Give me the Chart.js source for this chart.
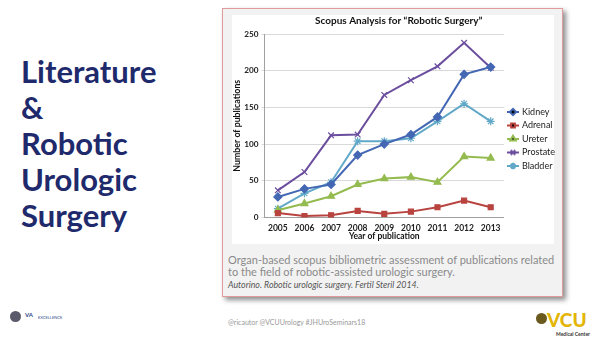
<!DOCTYPE html>
<html>
<head>
<meta charset="utf-8">
<script src="https://cdn.jsdelivr.net/npm/chart.js@4.4.1/dist/chart.umd.min.js"></script>
<style>
  html,body{margin:0;padding:0;background:#fff;width:600px;height:338px;overflow:hidden;font-family:Lato, "Open Sans", sans-serif;}
  #left{position:absolute;left:21px;top:52.5px;color:#1F2A6C;font-weight:bold;font-size:31px;line-height:36.2px;font-family:Lato,sans-serif;}
  #box{position:absolute;left:222px;top:8px;width:341px;height:289px;border:1px solid #E39A9A;background:#F2F2F2;box-shadow:3px 3px 5px rgba(0,0,0,0.45);box-sizing:border-box;}
  #white{position:absolute;left:232px;top:15px;width:322px;height:229px;background:#fff;}
  #cv{position:absolute;left:230px;top:15px;}
  #cap{position:absolute;left:228px;top:254px;color:#8A8A8A;font-size:11px;line-height:11.5px;font-family:Lato,sans-serif;white-space:nowrap;}
  #cite{position:absolute;left:228px;top:279px;color:#555;font-size:8.8px;font-style:italic;font-family:Lato,sans-serif;white-space:nowrap;}
  #foot{position:absolute;left:228px;top:318px;color:#9A9A9A;font-size:7px;font-family:Lato,sans-serif;white-space:nowrap;}
  #vcu{position:absolute;left:536px;top:310px;font-family:Lato,sans-serif;}
  #vcu .v{color:#E3B505;font-weight:900;font-size:19px;line-height:19px;margin-left:11px;}
  #vcu .c{position:absolute;left:0;top:3px;width:11px;height:11px;border-radius:50%;background:#6B5A1E;}
  #vcu .m{font-size:5px;color:#333;font-weight:bold;margin-left:20px;margin-top:2px;}
  #va{position:absolute;left:10px;top:311px;}
  #va .s{position:absolute;left:0;top:0;width:11px;height:11px;border-radius:50%;background:#5A5A6A;}
  #va .t{position:absolute;left:15px;top:0;color:#2F4A8A;font-size:6px;font-weight:bold;white-space:nowrap;}
  #va .u{position:absolute;left:28px;top:4px;color:#2F4A8A;font-size:4px;white-space:nowrap;}
</style>
</head>
<body>
<div id="left">Literature<br>&amp;<br>Robotic<br>Urologic<br>Surgery</div>
<div id="box"></div>
<div id="white"></div>
<canvas id="cv" width="335" height="229" style="width:335px;height:229px"></canvas>
<div id="cap">Organ-based scopus bibliometric assessment of publications related<br>to the field of robotic-assisted urologic surgery.</div>
<div id="cite">Autorino. Robotic urologic surgery. Fertil Steril 2014.</div>
<div id="foot">@ricautor @VCUUrology #JHUroSeminars18</div>
<div id="vcu"><div class="c"></div><div class="v">VCU</div><div class="m">Medical Center</div></div>
<div id="va"><div class="s"></div><div class="t">VA</div><div class="u">EXCELLENCE</div></div>
<script>
const years = ["2005","2006","2007","2008","2009","2010","2011","2012","2013"];
const kidney   = [28, 39, 45, 85, 100, 113, 137, 195, 205];
const adrenal  = [6, 2, 3, 9, 5, 8, 14, 23, 14];
const ureter   = [10, 19, 29, 45, 53, 55, 48, 83, 81];
const prostate = [37, 62, 112, 113, 167, 187, 206, 238, 204];
const bladder  = [12, 33, 48, 104, 104, 108, 131, 155, 131];
const yTicks   = [0, 50, 100, 150, 200, 250];

const seriesNames = ["Kidney","Adrenal","Ureter","Prostate","Bladder"];
const seriesData = [kidney, adrenal, ureter, prostate, bladder];
const colors = ["#4467B4","#B8433F","#94BB4F","#6B4E9E","#62A8C8"];
const markers = ["rectRot","rect","triangle","crossRot","star"];
const radii = [4,3.5,4,4,4];

function legendIcon(i){
  const c=document.createElement('canvas');c.width=12;c.height=10;
  const g=c.getContext('2d');
  g.strokeStyle=colors[i];g.lineWidth=2;
  g.beginPath();g.moveTo(0,5);g.lineTo(12,5);g.stroke();
  Chart.helpers.drawPoint(g,{pointStyle:markers[i],rotation:0,radius:radii[i]-0.8,borderWidth:1.2},6,5);
  return c;
}

const ds = seriesNames.map((n,i)=>({
  label:n,data:seriesData[i],borderColor:colors[i],backgroundColor:colors[i],
  borderWidth:2,pointStyle:markers[i],pointRadius:radii[i],pointBorderWidth:1.2,
  pointBorderColor:colors[i],pointBackgroundColor:colors[i],tension:0
}));

const shiftLegend = {
  id:'shiftLegend',
  afterLayout(chart){ const l=chart.legend; if(l){ l.top+=10; l.bottom+=10; } }
};

new Chart(document.getElementById('cv'),{
  type:'line',
  data:{labels:years,datasets:ds},
  plugins:[shiftLegend],
  options:{
    responsive:false,animation:false,
    layout:{padding:{left:2.5,right:0,top:0,bottom:1}},
    plugins:{
      title:{display:true,text:'Scopus Analysis for “Robotic Surgery”',color:'#111',
        font:{family:'Lato',size:10,weight:'bold'},padding:{top:0,bottom:7}},
      legend:{position:'right',
        labels:{color:'#222',font:{family:'Lato',size:9},boxWidth:12,boxHeight:10,padding:4.5,usePointStyle:true,
          generateLabels:(chart)=>{
            const items=Chart.defaults.plugins.legend.labels.generateLabels(chart);
            items.forEach((it,i)=>{it.pointStyle=legendIcon(i);});
            return items;
          }}},
      tooltip:{enabled:false}
    },
    scales:{
      x:{offset:true,grid:{display:false,drawTicks:false},border:{color:'#A0A0A0'},
        ticks:{color:'#222',font:{family:'Lato',size:8.5,weight:'bold',lineHeight:1},maxRotation:0,padding:6.5},
        title:{display:true,text:'Year of publication',color:'#111',font:{family:'Lato',size:8.5,weight:'bold',lineHeight:1},padding:{top:-7,bottom:2.5}}},
      y:{min:0,max:250,afterBuildTicks:(s)=>{s.ticks=yTicks.map(v=>({value:v}));},
        grid:{color:'#D9D9D9',tickLength:3},border:{color:'#A0A0A0'},
        ticks:{color:'#222',font:{family:'Lato',size:8.2,weight:'bold'},padding:3},
        title:{display:true,text:'Number of publications',color:'#111',font:{family:'Lato',size:8.8,weight:'bold',lineHeight:1},padding:{top:0,bottom:0}}}
    }
  }
});
</script>
</body>
</html>
